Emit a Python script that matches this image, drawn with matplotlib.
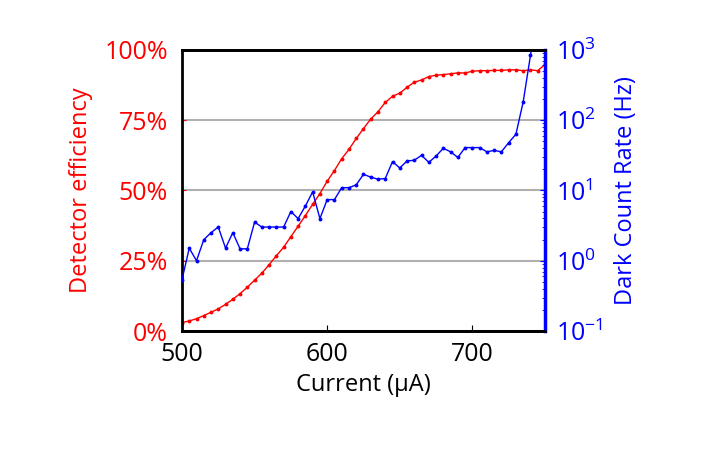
import matplotlib
matplotlib.use("Agg")
import matplotlib.pyplot as plt
import numpy as np
from matplotlib.ticker import FixedLocator, LogLocator, NullFormatter

plt.rcParams['font.family'] = ['Open Sans', 'DejaVu Sans']
plt.rcParams['mathtext.fontset'] = 'custom'
plt.rcParams['mathtext.rm'] = 'Open Sans'
plt.rcParams['mathtext.it'] = 'Open Sans'

current = np.arange(500, 751, 5)
efficiency = [3.0, 3.6, 4.4, 5.5, 6.7, 7.9, 9.5, 11.3, 13.3, 15.6,
              18.1, 20.6, 23.6, 26.8, 29.8, 33.6, 37.3, 41.1, 45.1, 48.9,
              53.3, 57.1, 61.3, 64.6, 68.5, 72.0, 75.4, 78.0, 81.3, 83.5,
              84.6, 86.7, 88.5, 89.3, 90.5, 91.0, 91.2, 91.5, 91.8, 91.8,
              92.4, 92.6, 92.6, 92.7, 92.7, 92.9, 92.9, 92.6, 92.9, 92.6, 94.8]
dcr_exp = [-0.27, 0.18, 0.0, 0.30, 0.40, 0.48, 0.18, 0.40, 0.17, 0.17,
           0.55, 0.48, 0.48, 0.48, 0.48, 0.70, 0.60, 0.78, 0.98, 0.60,
           0.87, 0.87, 1.04, 1.04, 1.08, 1.23, 1.19, 1.16, 1.17, 1.41,
           1.32, 1.42, 1.43, 1.50, 1.40, 1.49, 1.60, 1.55, 1.47, 1.61,
           1.61, 1.61, 1.55, 1.57, 1.55, 1.68, 1.80, 2.26, 2.92, 3.6]
dcr_current = current[:len(dcr_exp)]
dcr = 10 ** np.array(dcr_exp)

fig = plt.figure(figsize=(7.12, 4.75), dpi=100)
ax = fig.add_axes([0.2556, 0.303, 0.5098, 0.592])
ax.plot(current, efficiency, color='red', lw=1, marker='o', ms=1.8)
ax.set_xlim(500, 750)
ax.set_ylim(0, 100)
ax.set_xticks([500, 600, 700])
ax.set_yticks([0, 25, 50, 75, 100])
ax.set_yticklabels(['0%', '25%', '50%', '75%', '100%'])
ax.yaxis.grid(True, color='#b0b0b0', lw=1.5)
ax.set_axisbelow(True)
ax.tick_params(axis='y', colors='red', labelsize=18, direction='in', length=3, pad=10)
ax.tick_params(axis='x', labelsize=18, direction='in', length=4, pad=8)
ax.set_xlabel('Current (µA)', fontsize=17)
ax.set_ylabel('Detector efficiency', fontsize=17, color='red', labelpad=8)
for s in ['left', 'top', 'bottom']:
    ax.spines[s].set_linewidth(2)

ax2 = ax.twinx()
ax2.plot(dcr_current, dcr, color='blue', lw=1, marker='o', ms=1.8)
ax2.set_yscale('log')
ax2.set_ylim(0.1, 1000)
ax2.set_xlim(500, 750)
ax2.yaxis.set_major_locator(FixedLocator([0.1, 1, 10, 100, 1000]))
ax2.set_yticklabels([r'$10^{-1}$', r'$10^{0}$', r'$10^{1}$', r'$10^{2}$', r'$10^{3}$'])
ax2.yaxis.set_minor_locator(LogLocator(subs=np.arange(2, 10)))
ax2.yaxis.set_minor_formatter(NullFormatter())
ax2.tick_params(axis='y', which='both', colors='blue', labelsize=18, direction='in', pad=8)
ax2.set_ylabel('Dark Count Rate (Hz)', fontsize=17, color='blue', labelpad=8)
ax2.spines['right'].set_color('blue')
ax2.spines['right'].set_linewidth(2.5)
ax2.spines['left'].set_visible(False)
ax2.spines['top'].set_linewidth(2)
ax2.spines['bottom'].set_linewidth(2)

fig.savefig('out.png', dpi=100)
